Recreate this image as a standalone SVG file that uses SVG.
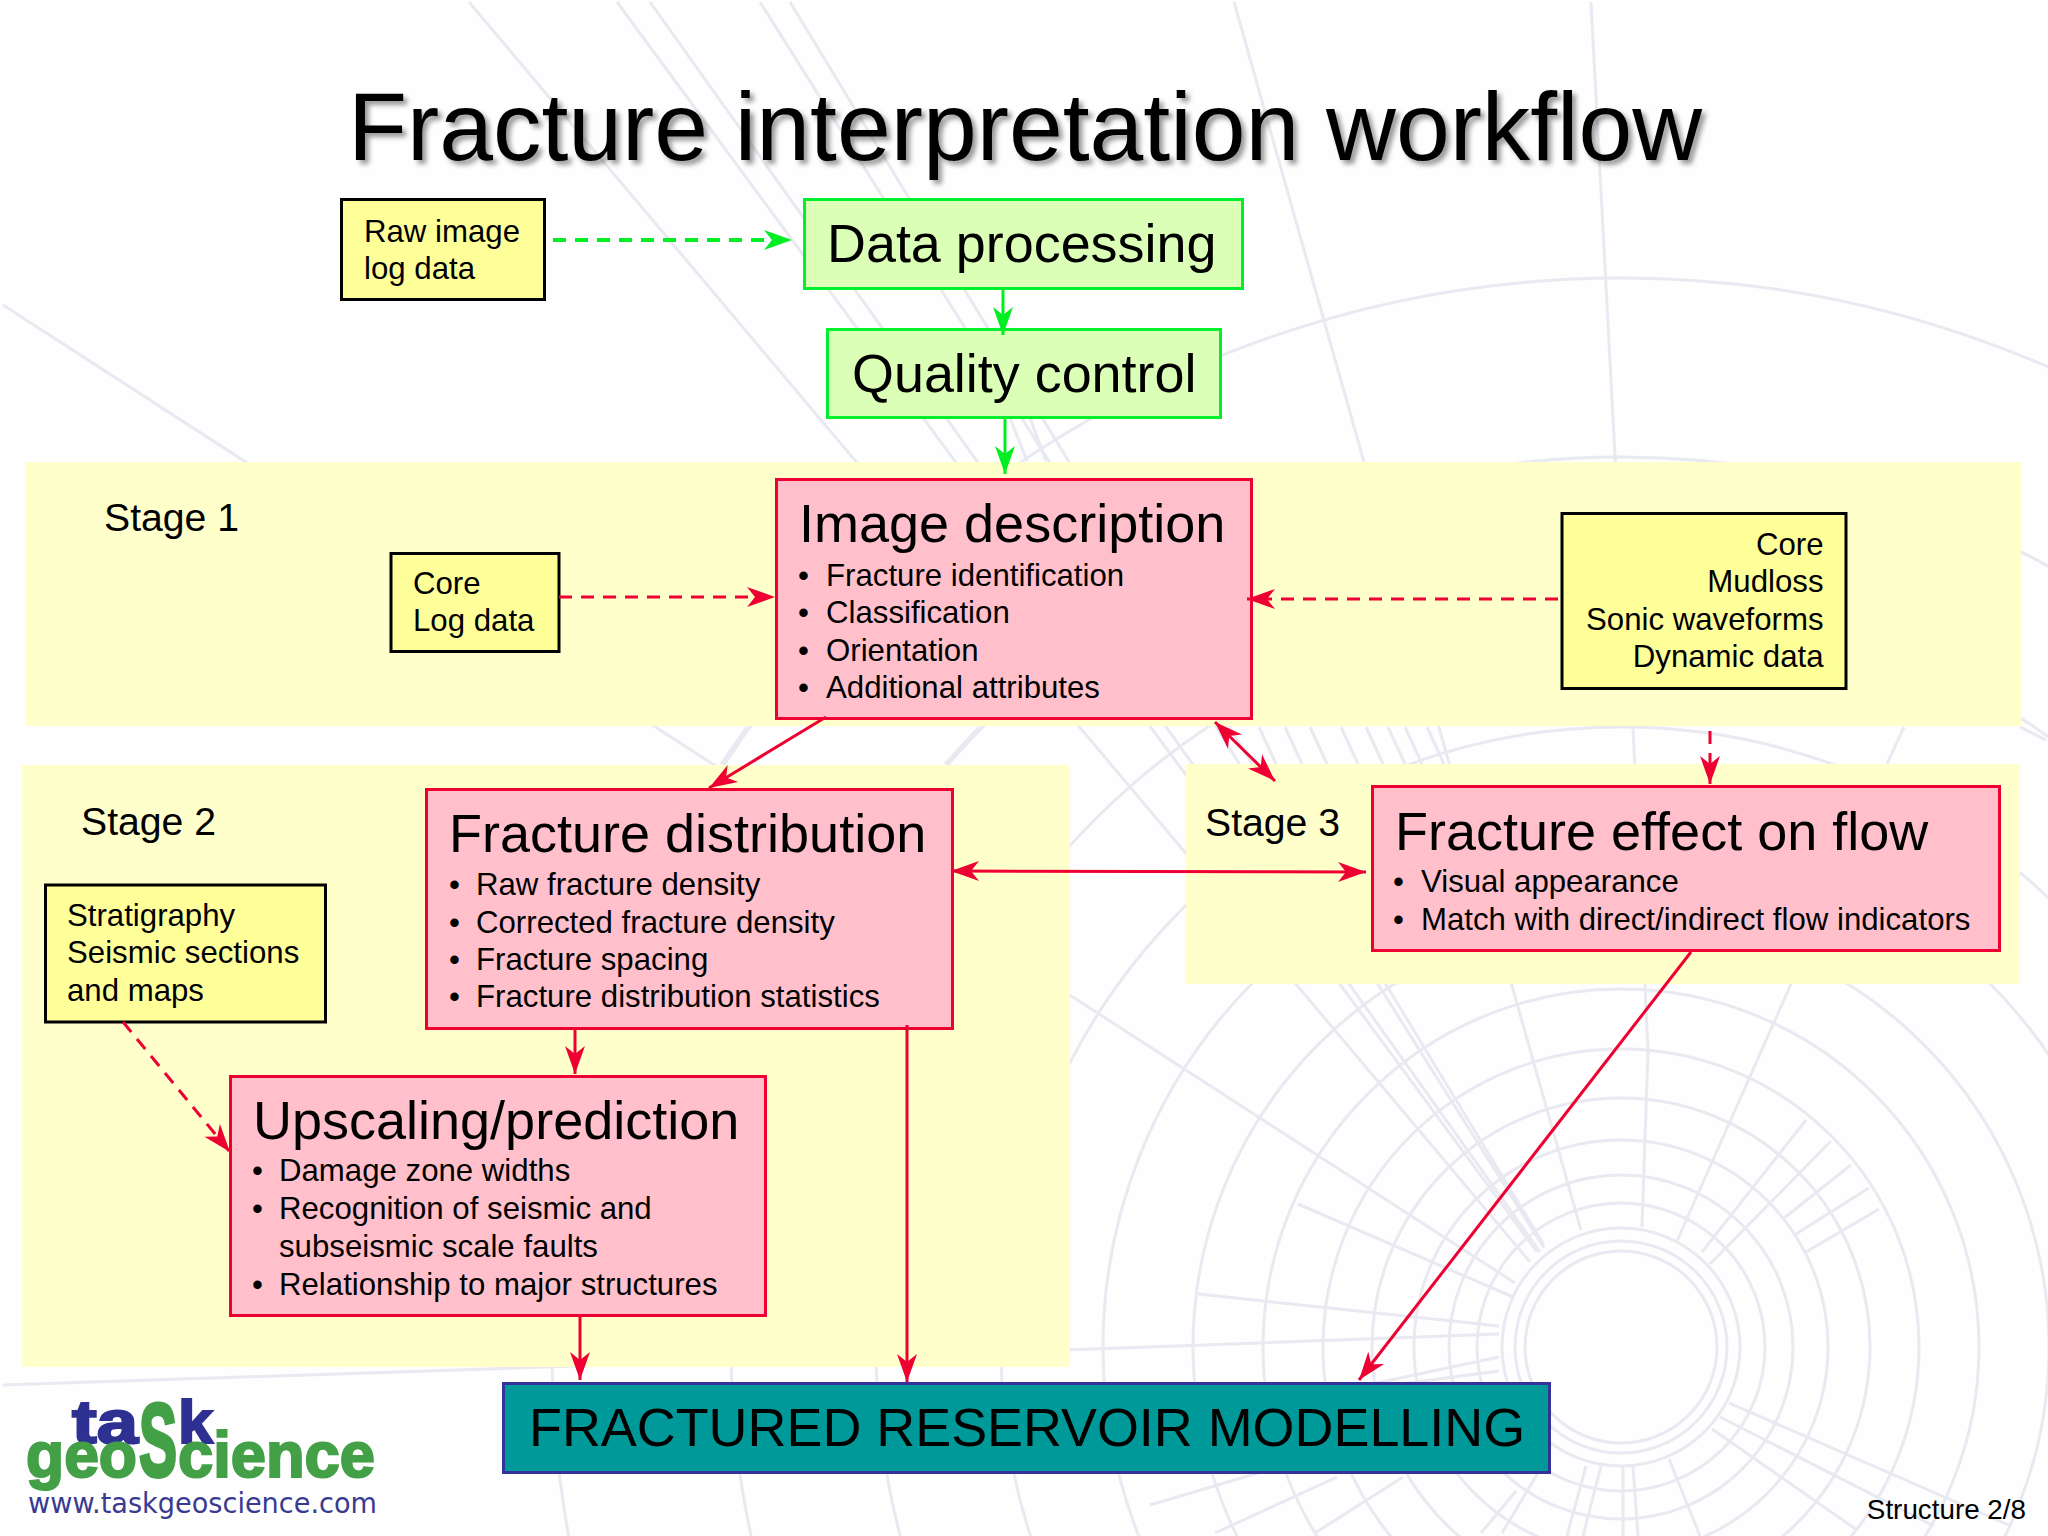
<svg xmlns="http://www.w3.org/2000/svg" width="2048" height="1536" viewBox="0 0 2048 1536">
<style>
text{font-family:"Liberation Sans",Arial,sans-serif;fill:#000}
.bg{fill:none;stroke:#e9e9f2;stroke-width:3}
.band{fill:#ffffcb}
.pink{fill:#ffc0cb;stroke:#ee0033;stroke-width:3}
.yel{fill:#ffff99;stroke:#000;stroke-width:3}
.grn{fill:#dcffb8;stroke:#00f030;stroke-width:3}
.t32{font-size:31.2px}
.t39{font-size:39.2px}
.t54{font-size:54px}
.r{fill:none;stroke:#ee0033;stroke-width:3}
.g{fill:none;stroke:#00ee22;stroke-width:3}
.ar{marker-end:url(#ra)}
.ag{marker-end:url(#ga)}
.both{marker-start:url(#rs);marker-end:url(#ra)}
.dr{stroke-dasharray:13 9}
.dg{stroke-dasharray:13 9;stroke-width:4}
.logo{font-weight:bold;stroke-width:2.2}
</style>
<defs>
<marker id="ra" markerUnits="userSpaceOnUse" markerWidth="32" markerHeight="26" refX="30" refY="13" orient="auto"><path d="M30,13L2,3L10,13L2,23Z" fill="#ee0033"/></marker>
<marker id="rs" markerUnits="userSpaceOnUse" markerWidth="32" markerHeight="26" refX="2" refY="13" orient="auto"><path d="M2,13L30,3L22,13L30,23Z" fill="#ee0033"/></marker>
<marker id="ga" markerUnits="userSpaceOnUse" markerWidth="32" markerHeight="26" refX="30" refY="13" orient="auto"><path d="M30,13L2,3L10,13L2,23Z" fill="#00ee22"/></marker>
<filter id="sh" x="-5%" y="-20%" width="110%" height="150%"><feDropShadow dx="4" dy="4" stdDeviation="2.5" flood-color="#000" flood-opacity="0.4"/></filter>
</defs>
<rect width="2048" height="1536" fill="#fefefe"/>
<g id="background" class="bg">
<circle cx="1621" cy="1347" r="96"/>
<circle cx="1621" cy="1347" r="106"/>
<circle cx="1621" cy="1347" r="119"/>
<circle cx="1621" cy="1347" r="144"/>
<circle cx="1621" cy="1347" r="172"/>
<circle cx="1621" cy="1347" r="207"/>
<circle cx="1621" cy="1347" r="249"/>
<circle cx="1621" cy="1347" r="298"/>
<circle cx="1621" cy="1347" r="358"/>
<circle cx="1621" cy="1347" r="428"/>
<circle cx="1621" cy="1347" r="518"/>
<circle cx="1621" cy="1347" r="620"/>
<circle cx="1621" cy="1347" r="745"/>
<circle cx="1621" cy="1347" r="890"/>
<circle cx="1621" cy="1347" r="1069"/>
<path d="M469,2L1530,1262M617,2L1537,1252M650,2L1540,1252M760,2L1544,1248M790,2L1544,1245M1010,418L1027,461M1030,418L1046,461"/>
<path d="M1234,2L1581,1230M1591,2L1615,456L1633,727L1648,1051L1642,1227"/>
<path d="M3,305L1515,1283M747,727L721,764M979,727L945,764"/>
<path d="M3,1385L1150,1347L1499,1334M1298,1204L1513,1297M1198,1294L1499,1326M1372,1384L1499,1357M1400,1384L1499,1371"/>
<path d="M1259,727L1276,764M1285,727L1302,764M1310,727L1327,764M1341,727L1358,764M1366,727L1383,764M1388,727L1405,764M1405,727L1422,764M1427,727L1444,764"/>
<path d="M1904,727L1887,764M2020,727L2046,740"/>
<path d="M1791,984L1677,1241M1806,1120L1702,1252M1831,1141L1710,1264M1851,1165L1784,1218M1869,1188L1796,1234M1879,1209L1806,1252"/>
<path d="M1729,1403L2011,1526M1720,1417L1934,1526M1712,1429L1857,1530M1669,1459L1700,1536M1623,1466V1536M1633,1466L1638,1536M1586,1466L1567,1536M1601,1466L1583,1536"/>
<path d="M1150,1505L1403,1430M1215,1533L1337,1477M1315,1533L1403,1477M1502,1533L1548,1456M1481,1533L1516,1491"/>
</g>
<g id="band-stage1"><rect class="band" x="26" y="462" width="1995" height="264"/></g>
<g id="band-stage2"><rect class="band" x="22" y="765" width="1048" height="602"/></g>
<g id="band-stage3"><rect class="band" x="1186" y="764" width="834" height="220"/></g>
<g id="title"><text x="348" y="160" font-size="96.7" filter="url(#sh)">Fracture interpretation workflow</text></g>
<g id="stage-1-label"><text class="t39" x="104" y="531">Stage 1</text></g>
<g id="stage-2-label"><text class="t39" x="81" y="835">Stage 2</text></g>
<g id="stage-3-label"><text class="t39" x="1205" y="836">Stage 3</text></g>
<g id="raw-image"><rect class="yel" x="341.5" y="199.5" width="203" height="100"/>
<text class="t32" x="364" y="242">Raw image</text><text class="t32" x="364" y="279">log data</text></g>
<g id="data-processing"><rect class="grn" x="804.5" y="199.5" width="438" height="89"/>
<text x="827" y="262" font-size="53.9">Data processing</text></g>
<g id="quality-control"><rect class="grn" x="827.5" y="329.5" width="393" height="88"/>
<text x="852" y="392" font-size="53.9">Quality control</text></g>
<g id="image-description"><rect class="pink" x="776.5" y="479.5" width="475" height="239"/>
<text class="t54" x="799" y="542">Image description</text>
<text class="t32" x="798" y="586">•</text><text class="t32" x="826" y="586">Fracture identification</text>
<text class="t32" x="798" y="623">•</text><text class="t32" x="826" y="623">Classification</text>
<text class="t32" x="798" y="661">•</text><text class="t32" x="826" y="661">Orientation</text>
<text class="t32" x="798" y="698">•</text><text class="t32" x="826" y="698">Additional attributes</text></g>
<g id="core-log"><rect class="yel" x="391" y="553.5" width="168" height="98"/>
<text class="t32" x="413" y="594">Core</text><text class="t32" x="413" y="631">Log data</text></g>
<g id="core-mudloss"><rect class="yel" x="1562" y="513.5" width="284" height="175"/>
<g text-anchor="end"><text class="t32" x="1823.5" y="555">Core</text><text class="t32" x="1823.5" y="592">Mudloss</text><text class="t32" x="1823.5" y="630">Sonic waveforms</text><text class="t32" x="1823.5" y="667">Dynamic data</text></g></g>
<g id="fracture-distribution"><rect class="pink" x="426.5" y="789.5" width="526" height="239"/>
<text class="t54" x="449" y="852">Fracture distribution</text>
<text class="t32" x="449" y="895">•</text><text class="t32" x="476" y="895">Raw fracture density</text>
<text class="t32" x="449" y="933">•</text><text class="t32" x="476" y="933">Corrected fracture density</text>
<text class="t32" x="449" y="970">•</text><text class="t32" x="476" y="970">Fracture spacing</text>
<text class="t32" x="449" y="1007">•</text><text class="t32" x="476" y="1007">Fracture distribution statistics</text></g>
<g id="fracture-effect"><rect class="pink" x="1372.5" y="786.5" width="627" height="164"/>
<text class="t54" x="1395" y="850">Fracture effect on flow</text>
<text class="t32" x="1393" y="892">•</text><text class="t32" x="1421" y="892">Visual appearance</text>
<text class="t32" x="1393" y="930">•</text><text class="t32" x="1421" y="930">Match with direct/indirect flow indicators</text></g>
<g id="stratigraphy"><rect class="yel" x="45.5" y="885" width="280" height="137"/>
<text class="t32" x="67" y="925.5">Stratigraphy</text><text class="t32" x="67" y="963">Seismic sections</text><text class="t32" x="67" y="1001">and maps</text></g>
<g id="upscaling"><rect class="pink" x="230.5" y="1076.5" width="535" height="239"/>
<text class="t54" x="253" y="1139">Upscaling/prediction</text>
<text class="t32" x="252" y="1181">•</text><text class="t32" x="279" y="1181">Damage zone widths</text>
<text class="t32" x="252" y="1218.5">•</text><text class="t32" x="279" y="1218.5">Recognition of seismic and</text>
<text class="t32" x="279" y="1256.5">subseismic scale faults</text>
<text class="t32" x="252" y="1295">•</text><text class="t32" x="279" y="1295">Relationship to major structures</text></g>
<g id="reservoir-modelling"><rect x="503.5" y="1383.5" width="1046" height="89" fill="#009999" stroke="#333399" stroke-width="3"/>
<text x="529" y="1446" font-size="53.9">FRACTURED RESERVOIR MODELLING</text></g>
<g id="connectors">
<path class="g ag dg" d="M553,240H792"/>
<path class="g ag" d="M1003,289V335"/>
<path class="g ag" d="M1005,418V474"/>
<path class="r ar dr" d="M559,597H775"/>
<path class="r ar dr" d="M1558,599H1247"/>
<path class="r ar" d="M826,717L709,788"/>
<path class="r both" d="M1215,722L1275,781"/>
<path class="r ar dr" d="M1710,731V784"/>
<path class="r both" d="M951,871L1366,872"/>
<path class="r ar" d="M575,1029V1074"/>
<path class="r ar dr" d="M123,1022L230,1152"/>
<path class="r ar" d="M580,1316V1380"/>
<path class="r ar" d="M907,1025V1382"/>
<path class="r ar" d="M1691,952L1359,1380"/>
</g>
<g id="logo">
<text class="logo" x="72" y="1443" font-size="62" stroke="#2e3192" textLength="66" lengthAdjust="spacingAndGlyphs" style="fill:#2e3192">ta</text>
<text class="logo" x="178" y="1443" font-size="62" stroke="#2e3192" textLength="35" lengthAdjust="spacingAndGlyphs" style="fill:#2e3192">k</text>
<text class="logo" x="26" y="1477" font-size="64" stroke="#43a047" textLength="111" lengthAdjust="spacingAndGlyphs" style="fill:#43a047">geo</text>
<text x="139" y="1476" font-size="104" font-weight="bold" stroke="#43a047" stroke-width="4" textLength="38" lengthAdjust="spacingAndGlyphs" style="fill:#43a047">S</text>
<text class="logo" x="178" y="1477" font-size="64" stroke="#43a047" textLength="197" lengthAdjust="spacingAndGlyphs" style="fill:#43a047">cience</text>
<text x="28" y="1513" font-size="29" textLength="349" lengthAdjust="spacingAndGlyphs" style="font-family:'DejaVu Sans',sans-serif;fill:#3a3a90">www.taskgeoscience.com</text>
</g>
<g id="page-number"><text x="2026" y="1519" font-size="27.8" text-anchor="end">Structure 2/8</text></g>
</svg>
